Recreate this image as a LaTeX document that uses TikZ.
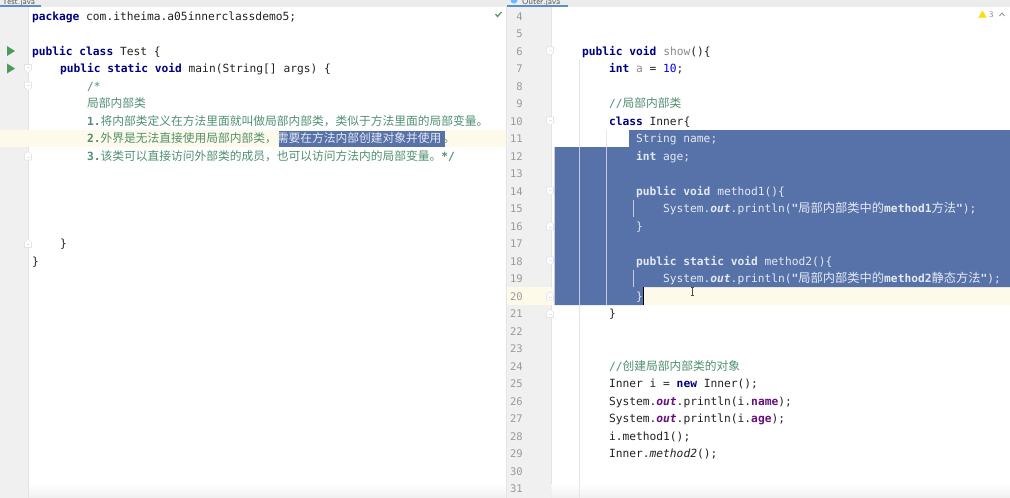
\documentclass[tikz,border=0pt]{standalone}
\usepackage{fontspec}
\setmonofont{DejaVu Sans Mono}
\newfontfamily\cjkfam{Noto Sans CJK SC}
\definecolor{gutter}{HTML}{F0F0F0}
\definecolor{gutline}{HTML}{E4E4E4}
\definecolor{tabbar}{HTML}{ECECEC}
\definecolor{tabline}{HTML}{5B8FC7}
\definecolor{curline}{HTML}{FDFAEA}
\definecolor{sel}{HTML}{5772A9}
\definecolor{seltext}{HTML}{E3E9F2}
\definecolor{kwc}{HTML}{000080}
\definecolor{cmt}{HTML}{4F9070}
\definecolor{ink}{HTML}{222222}
\definecolor{fieldc}{HTML}{660E7A}
\definecolor{grayc}{HTML}{8A8A8A}
\definecolor{lnum}{HTML}{9A9A9A}
\definecolor{guide}{HTML}{E6E6E6}
\definecolor{runc}{HTML}{4E9A5B}
\newcommand{\cjt}[1]{{\cjkfam\fontsize{11.75}{14}\selectfont #1}}
\newcommand{\cjs}[1]{{\cjkfam\mdseries\fontsize{12.25}{14}\selectfont #1}}
\newcommand{\kwd}[1]{\textcolor{kwc}{\textbf{#1}}}
\newcommand{\fldn}[1]{\textcolor{fieldc}{\textbf{#1}}}
\newcommand{\outf}{\textcolor{fieldc}{\textbf{\textit{out}}}}
\newcommand{\gryt}[1]{\textcolor{grayc}{#1}}
% \codel[options]{name}{x}{line y}{text}
\newcommand{\codel}[5][]{\node[codeline,#1] (#2) at (#3,#4+4) {#5};}
\newcommand{\lnm}[2]{\node[linenum] (n#1) at (523,#2+4) {#1};}
\newcommand{\foldd}[2]{\draw[foldmark] (#1-3.5,#2-4) -- (#1+3.5,#2-4) -- (#1+3.5,#2+1.5) -- (#1,#2+4.5) -- (#1-3.5,#2+1.5) -- cycle;
  \draw[foldbar] (#1-1.5,#2-1) -- (#1+1.5,#2-1);}
\newcommand{\foldu}[2]{\draw[foldmark] (#1-3.5,#2+4) -- (#1+3.5,#2+4) -- (#1+3.5,#2-1.5) -- (#1,#2-4.5) -- (#1-3.5,#2-1.5) -- cycle;
  \draw[foldbar] (#1-1.5,#2+1) -- (#1+1.5,#2+1);}
\tikzset{
  codeline/.style={anchor=base west,inner sep=0pt,outer sep=0pt,text=ink,font=\ttfamily\fontsize{11.25}{14}\selectfont},
  linenum/.style={anchor=base east,inner sep=0pt,text=lnum,font=\ttfamily\fontsize{10.5}{13}\selectfont},
  foldmark/.style={fill=white,draw=gutline,line width=0.6pt},
  foldbar/.style={draw=gutline,line width=0.5pt},
  guideline/.style={draw=guide,line width=0.7pt},
  selguide/.style={draw=seltext!75!sel,line width=0.7pt},
  runmark/.style={fill=runc,draw=none},
  seltxt/.style={text=seltext},
  tabtxt/.style={anchor=base west,inner sep=0pt,text=ink!75,font=\sffamily\fontsize{8.5}{10}\selectfont}
}
\begin{document}
\begin{tikzpicture}[x=1pt,y=-1pt]
\useasboundingbox (0,0) rectangle (1010,498);
\fill[white] (0,0) rectangle (1010,498);
% top tab bar
\fill[tabbar] (0,0) rectangle (1010,7);
\begin{scope}
\clip (0,0) rectangle (1010,7);
\node[tabtxt] (tab1) at (2,4) {Test.java};
\node[tabtxt] (tab2) at (522,4) {Outer.java};
\fill[blue!45!cyan!60] (514,0) circle (3.5);
\end{scope}
\fill[tabline] (0,5) rectangle (41,6.5);
\fill[tabline] (507,5) rectangle (568,6.5);
% gutters
\fill[gutter] (0,7) rectangle (27.5,498);
\fill[gutline] (27.5,7) rectangle (29,498);
\fill[gutter] (507,7) rectangle (550.5,498);
\fill[gutline] (505.5,7) rectangle (507,498);
\fill[gutline] (550.5,7) rectangle (551,498);
% current lines
\fill[curline] (0,130) rectangle (505.5,147);
\fill[curline] (507,287) rectangle (1010,305);
\fill[curline] (507,130) rectangle (507.5,147);
% bottom fade
\shade[top color=white,bottom color=black!7,opacity=.8] (29,484) rectangle (505.5,498);
\shade[top color=white,bottom color=black!7,opacity=.8] (551,484) rectangle (1010,498);
% guides
\draw[guideline] (579.5,60) -- (579.5,498);
\draw[guideline] (606.5,130) -- (606.5,147);
% fold markers
\foldd{28}{68.5}\foldd{28}{86}\foldu{28}{156}\foldu{28}{243.5}
\foldd{550}{51}\foldd{550}{121}\foldd{550}{191}\foldu{550}{226}\foldd{550}{261}\foldu{550}{296}\foldu{550}{313.5}
% selections
\fill[sel] (278.5,130.5) rectangle (445,147);
\fill[sel] (629,130) -- (1010,130) -- (1010,287) -- (643,287) -- (643,305) -- (554.5,305) -- (554.5,147) -- (629,147) -- cycle;
\draw[selguide] (579.5,147) -- (579.5,305);
\draw[selguide] (606.5,147) -- (606.5,305);
\draw[selguide] (633.5,200) -- (633.5,217);
\draw[selguide] (633.5,270) -- (633.5,287);
\draw[black,line width=1pt] (643,287) -- (643,305);
% run icons
\fill[runmark] (7,46) -- (15,51) -- (7,56) -- cycle;
\fill[runmark] (7,63.5) -- (15,68.5) -- (7,73.5) -- cycle;
% left code
\codel{l1}{32}{16}{\kwd{package} com.itheima.a05innerclassdemo5;}
\codel{l3}{32}{51}{\kwd{public} \kwd{class} Test \{}
\codel{l4}{60}{68.5}{\kwd{public} \kwd{static} \kwd{void} main(String[] args) \{}
\codel[text=cmt]{l5}{87}{86}{/*}
\codel[text=cmt]{l6}{87}{103.5}{\cjt{局部内部类}}
\codel[text=cmt]{l7}{87}{121}{\textbf{1.}\cjt{将内部类定义在方法里面就叫做局部内部类，类似于方法里面的局部变量。}}
\codel[text=cmt]{l8}{87}{138.5}{\textbf{2.}\cjt{外界是无法直接使用局部内部类，\textcolor{seltext}{需要在方法内部创建对象并使用}\hspace{2pt}。}}
\codel[text=cmt]{l9}{87}{156}{\textbf{3.}\cjt{该类可以直接访问外部类的成员，也可以访问方法内的局部变量。}\textbf{*/}}
\codel{l10}{60}{243.5}{\}}
\codel{l11}{32}{261}{\}}
% right code
\codel{r6}{582}{51}{\kwd{public} \kwd{void} \gryt{show}()\{}
\codel{r7}{609}{68.5}{\kwd{int} \gryt{a} = \textcolor{blue}{10};}
\codel[text=cmt]{r9}{609}{103.5}{//\cjt{局部内部类}}
\codel{r10}{609}{121}{\kwd{class} Inner\{}
\codel[seltxt]{r11}{636}{138.5}{String name;}
\codel[seltxt]{r12}{636}{156}{\textbf{int} age;}
\codel[seltxt]{r14}{636}{191}{\textbf{public} \textbf{void} method1()\{}
\codel[seltxt]{r15}{663}{208.5}{System.\textbf{\textit{out}}.println(\textbf{"\cjs{局部内部类中的}method1\cjs{方法}"});}
\codel[seltxt]{r16}{636}{226}{\}}
\codel[seltxt]{r18}{636}{261}{\textbf{public} \textbf{static} \textbf{void} method2()\{}
\codel[seltxt]{r19}{663}{278.5}{System.\textbf{\textit{out}}.println(\textbf{"\cjs{局部内部类中的}method2\cjs{静态方法}"});}
\codel[seltxt]{r20}{636}{296}{\}}
\codel{r21}{609}{313.5}{\}}
\codel[text=cmt]{r24}{609}{366}{//\cjt{创建局部内部类的对象}}
\codel{r25}{609}{383.5}{Inner i = \kwd{new} Inner();}
\codel{r26}{609}{401}{System.\outf.println(i.\fldn{name});}
\codel{r27}{609}{418.5}{System.\outf.println(i.\fldn{age});}
\codel{r28}{609}{436}{i.method1();}
\codel{r29}{609}{453.5}{Inner.\textit{method2}();}
% line numbers
\lnm{4}{16}\lnm{5}{33.5}\lnm{6}{51}\lnm{7}{68.5}\lnm{8}{86}\lnm{9}{103.5}\lnm{10}{121}\lnm{11}{138.5}\lnm{12}{156}\lnm{13}{173.5}\lnm{14}{191}\lnm{15}{208.5}\lnm{16}{226}\lnm{17}{243.5}\lnm{18}{261}\lnm{19}{278.5}\lnm{20}{296}\lnm{21}{313.5}\lnm{22}{331}\lnm{23}{348.5}\lnm{24}{366}\lnm{25}{383.5}\lnm{26}{401}\lnm{27}{418.5}\lnm{28}{436}\lnm{29}{453.5}\lnm{30}{471}\lnm{31}{488.5}
% status icons
\draw[runc,line width=1.2pt] (495.5,14) -- (497.5,16.5) -- (501.5,12);
\fill[yellow!80!orange] (982.5,10.5) -- (986.5,17.5) -- (978.5,17.5) -- cycle;
\node[anchor=base west,inner sep=0pt,text=grayc,font=\sffamily\fontsize{8.5}{10}\selectfont] (warn) at (989,17.5) {3};
\draw[grayc,line width=0.8pt] (999.5,16) -- (1002,13) -- (1004.5,16);
% I-beam cursor
\draw[ink!80,line width=0.7pt] (692.5,287) -- (692.5,295) (691,287) -- (694,287) (691,295) -- (694,295);
\end{tikzpicture}
\end{document}
